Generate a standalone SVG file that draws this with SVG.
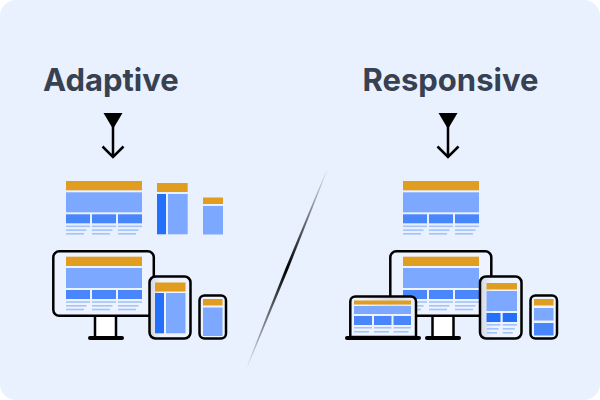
<svg xmlns="http://www.w3.org/2000/svg" width="600" height="400" viewBox="0 0 600 400">
<style>
.t{font-family:Inter,"Liberation Sans",sans-serif;font-weight:700;font-size:31px;fill:#374151}
.o{fill:#E09D20}.h{fill:#7CA9FF}.c{fill:#4A86FB}.d{fill:#2470FB}.l{fill:#A3C3FD}
.s{fill:#EDF3FF;stroke:#000;stroke-width:2.5}.w{fill:#fff;stroke:#000;stroke-width:2.5}.b{fill:#000}
.a{fill:none;stroke:#000;stroke-width:2.5}
.st{fill:url(#sheen);stroke:#000;stroke-width:2.5}.sl{fill:url(#sheen2);stroke:#000;stroke-width:2.5}
</style>
<defs>
<linearGradient id="g" x1="327" y1="170" x2="247" y2="367" gradientUnits="userSpaceOnUse">
<stop offset="0" stop-color="#000" stop-opacity=".03"/><stop offset=".5" stop-color="#000"/><stop offset="1" stop-color="#000" stop-opacity=".03"/>
</linearGradient>
<linearGradient id="sheen" x1="0" y1="0" x2="1" y2="0">
<stop offset="0" stop-color="#D3D7E0"/><stop offset=".3" stop-color="#EDF3FF"/>
</linearGradient>
<radialGradient id="sheen2" cx=".62" cy=".05" r=".45">
<stop offset="0" stop-color="#D8DBE3"/><stop offset="1" stop-color="#EDF3FF"/>
</radialGradient>
<g id="page">
<rect class="o" x="0" y="0" width="76" height="9.3"/>
<rect class="h" x="0" y="11.3" width="76" height="20"/>
<rect class="c" x="0" y="33.3" width="24" height="9"/><rect class="c" x="26" y="33.3" width="24" height="9"/><rect class="c" x="52" y="33.3" width="24" height="9"/>
<rect class="l" x="0" y="44.5" width="24" height="1.6"/><rect class="l" x="26" y="44.5" width="24" height="1.6"/><rect class="l" x="52" y="44.5" width="24" height="1.6"/>
<rect class="l" x="0" y="48.3" width="20.5" height="1.6"/><rect class="l" x="26" y="48.3" width="20.5" height="1.6"/><rect class="l" x="52" y="48.3" width="20.5" height="1.6"/>
<rect class="l" x="0" y="52" width="18" height="1.6"/><rect class="l" x="26" y="52" width="18" height="1.6"/><rect class="l" x="52" y="52" width="18" height="1.6"/>
</g>
<g id="arrow">
<path class="b" d="M-9.500 113H9.500L0 129Z"/>
<path class="a" d="M0 113V157M-10.500 146.500L0 157L10.500 146.500"/>
</g>
</defs>
<rect width="600" height="400" fill="#fff"/>
<rect id="bg" width="600" height="400" rx="16" fill="#E9F1FF"/>
<g id="title-adaptive"><text class="t" x="43" y="91">Adaptive</text></g>
<g id="title-responsive"><text class="t" x="362.500" y="91">Responsive</text></g>
<g id="connectors">
<use href="#arrow" x="113"/>
<use href="#arrow" x="448"/>
<polygon points="327.500,170 288.400,269 247.500,367 246.500,367 285.600,268 326.500,170" fill="url(#g)"/>
</g>
<g id="a-wide"><use href="#page" x="66" y="181"/></g>
<g id="a-medium">
<rect class="o" x="157" y="183" width="30.700" height="9"/><rect class="d" x="157" y="194" width="9" height="40.300"/><rect class="h" x="168" y="194" width="19.700" height="40.300"/>
</g>
<g id="a-small">
<rect class="o" x="203" y="197.500" width="20" height="6.500"/><rect class="h" x="203" y="206" width="20" height="28.500"/>
</g>
<g id="a-monitor">
<rect class="w" x="95" y="314" width="21" height="24"/>
<rect class="b" x="88" y="336" width="36" height="4" rx="2"/>
<rect class="s" x="53.300" y="251.300" width="100.500" height="64.500" rx="6"/>
<use href="#page" x="66" y="256.700"/>
</g>
<g id="a-tablet">
<rect class="st" x="149.500" y="276.500" width="41" height="62" rx="6"/>
<rect class="o" x="155" y="282.500" width="30.500" height="9"/><rect class="d" x="155" y="293" width="9" height="40.300"/><rect class="h" x="166" y="293" width="19.500" height="40.300"/>
</g>
<g id="a-phone">
<rect class="s" x="199.500" y="295.500" width="26.500" height="43" rx="5"/>
<rect class="o" x="203" y="299" width="19.500" height="6.500"/><rect class="h" x="203" y="307.500" width="19.500" height="28.500"/>
</g>
<g id="r-wide"><use href="#page" x="403" y="181"/></g>
<g id="r-monitor">
<rect class="w" x="432.500" y="314" width="21" height="24"/>
<rect class="b" x="425" y="336" width="36" height="4" rx="2"/>
<rect class="s" x="390.300" y="251.300" width="101" height="64.500" rx="6"/>
<use href="#page" x="403" y="256.700"/>
</g>
<g id="r-laptop">
<path class="sl" d="M350.300 337V301.500a5 5 0 0 1 5-5H411a5 5 0 0 1 5 5V337Z"/>
<rect class="b" x="345" y="336" width="76" height="4" rx="2"/>
<rect class="o" x="354" y="300.500" width="57" height="4"/>
<rect class="h" x="354" y="306" width="57" height="8"/>
<rect class="c" x="354" y="316" width="18" height="9"/><rect class="c" x="374" y="316" width="17.500" height="9"/><rect class="c" x="393.500" y="316" width="17.500" height="9"/>
<rect class="l" x="354" y="327" width="18" height="1.500"/><rect class="l" x="374" y="327" width="17.500" height="1.500"/><rect class="l" x="393.500" y="327" width="17.500" height="1.500"/>
<rect class="l" x="354" y="331" width="15" height="1.500"/><rect class="l" x="374" y="331" width="15" height="1.500"/><rect class="l" x="393.500" y="331" width="15" height="1.500"/>
</g>
<g id="r-tablet">
<rect class="st" x="480" y="276.500" width="41.500" height="62" rx="6"/>
<rect class="o" x="486.500" y="283" width="30.500" height="6.500"/>
<rect class="h" x="486.500" y="291" width="30.500" height="20"/>
<rect class="d" x="486.500" y="313" width="14" height="9"/><rect class="d" x="502.700" y="313" width="14.300" height="9"/>
<rect class="l" x="486.500" y="324" width="14" height="1.600"/><rect class="l" x="502.700" y="324" width="14.300" height="1.600"/>
<rect class="l" x="486.500" y="328" width="12" height="1.600"/><rect class="l" x="502.700" y="328" width="12" height="1.600"/>
<rect class="l" x="486.500" y="332" width="10.500" height="1.600"/><rect class="l" x="502.700" y="332" width="10" height="1.600"/>
</g>
<g id="r-phone">
<rect class="s" x="530.500" y="295.500" width="26.500" height="43" rx="5"/>
<rect class="o" x="534" y="299" width="19.500" height="6.500"/>
<rect class="h" x="534" y="308" width="19.500" height="12.500"/>
<rect class="c" x="534" y="323" width="19.500" height="12.500"/>
</g>
</svg>
